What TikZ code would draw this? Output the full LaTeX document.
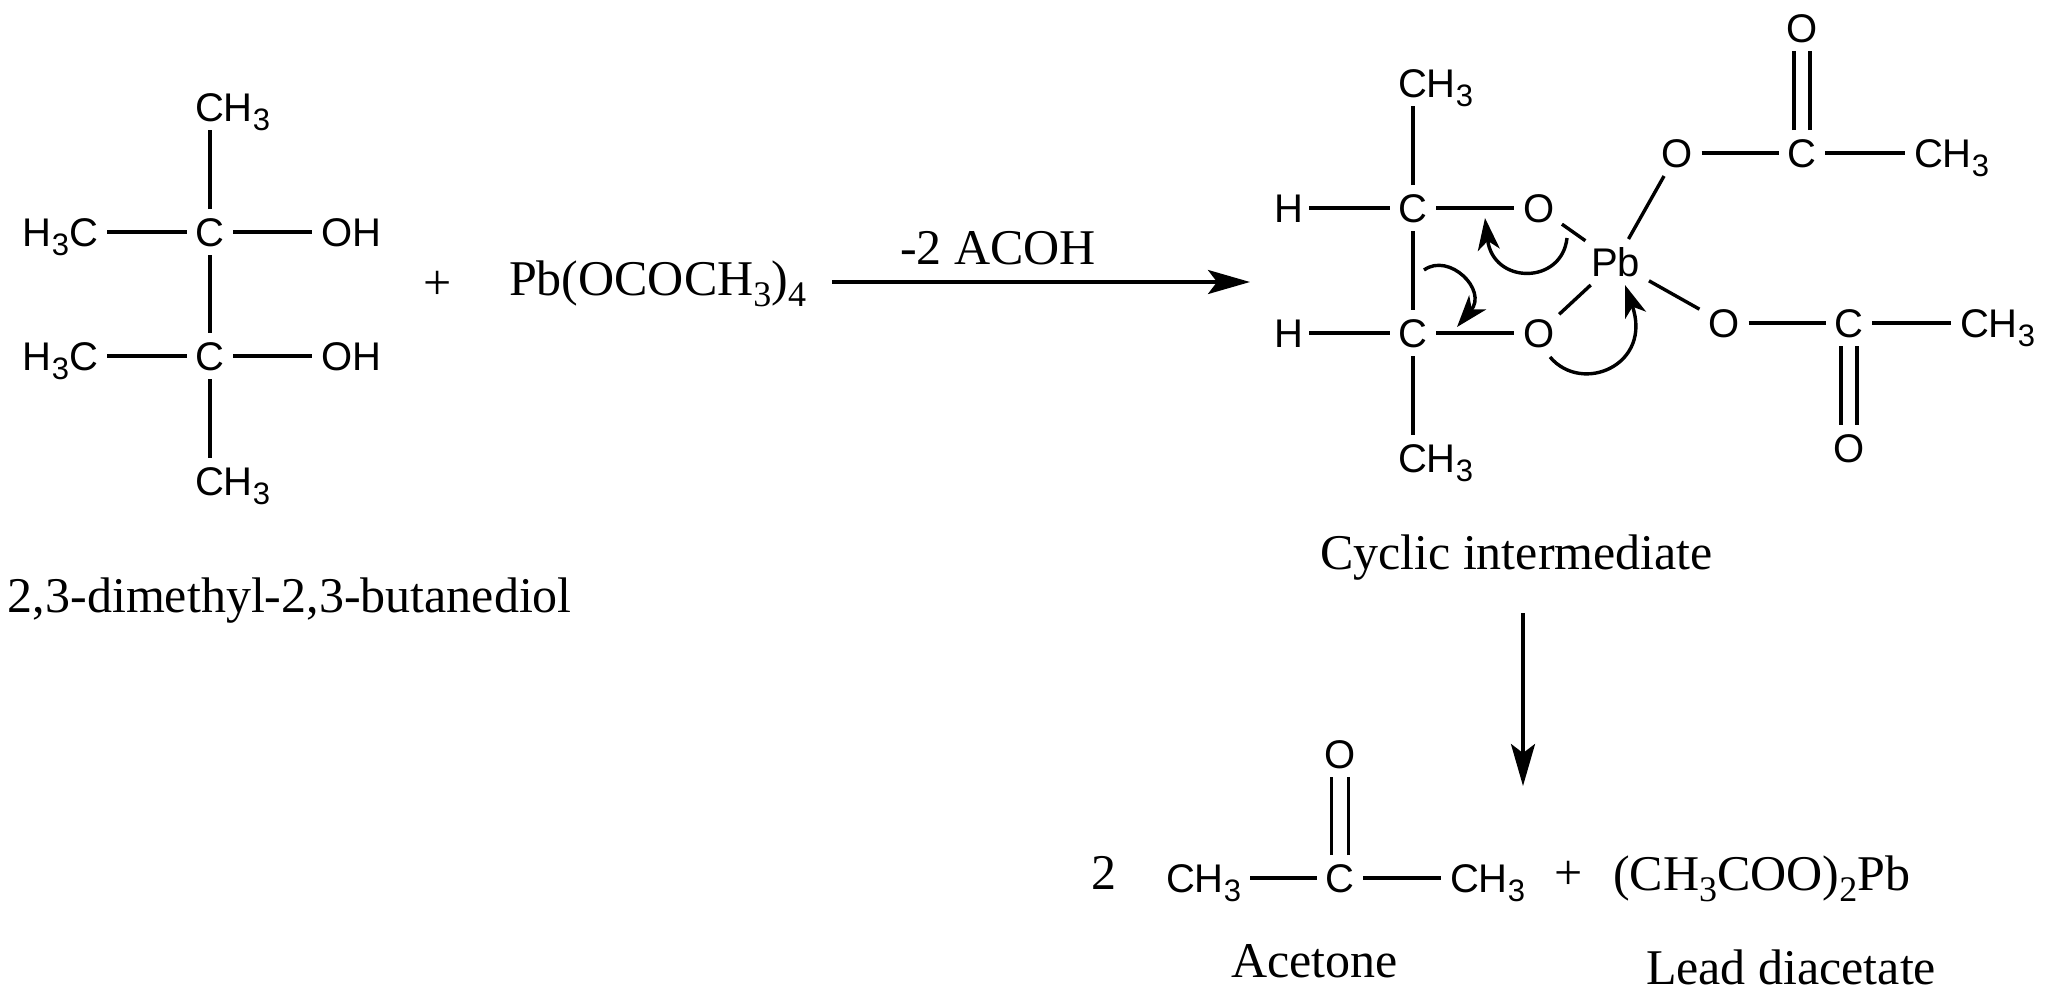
\documentclass[tikz,border=0pt]{standalone}
\usepackage{fontspec}
\setmainfont{Liberation Serif}
\newfontfamily\chemfont{Liberation Sans}
\usetikzlibrary{arrows.meta}
\newcommand{\atsub}[1]{\raisebox{-9pt}{\fontsize{31}{31}\selectfont #1}}
\newcommand{\txsub}[1]{\raisebox{-11pt}{\fontsize{36}{36}\selectfont #1}}
\tikzset{
  atom/.style={inner sep=0pt,outer sep=9pt,text height=28pt,text depth=0pt,font=\fontsize{40}{40}\chemfont},
  lbl/.style={inner sep=0pt,outer sep=0pt,anchor=base west,font=\fontsize{50}{50}\selectfont},
  bond/.style={line width=3.4pt,line cap=butt},
  mainarrow/.style={line width=3.4pt,-{Stealth[length=42pt,width=24pt,inset=9pt]}},
  curly/.style={line width=3.4pt,-{Stealth[length=32pt,width=22pt,inset=9pt]}},
}
\begin{document}
\begin{tikzpicture}[x=1pt,y=-1pt]
\useasboundingbox[fill=white] (0,0) rectangle (2045,1007);
% left molecule
\node[atom] (lc1) at (210,232) {C};
\node[atom] (lc2) at (210,356) {C};
\node[atom,anchor=west] (lm1) at (186,107) {CH\atsub{3}};
\node[atom,anchor=west] (lm2) at (186,481) {CH\atsub{3}};
\node[atom,anchor=east] (lm3) at (107,232) {H\atsub{3}C};
\node[atom,anchor=east] (lm4) at (107,356) {H\atsub{3}C};
\node[atom,anchor=west] (loh1) at (312,232) {OH};
\node[atom,anchor=west] (loh2) at (312,356) {OH};
\draw[bond] (lc1.north) -- (lc1.north |- lm1.south);
\draw[bond] (lc2.south) -- (lc2.south |- lm2.north);
\draw[bond] (lc1.south) -- (lc2.north);
\draw[bond] (lm3.east) -- (lc1.west);
\draw[bond] (lm4.east) -- (lc2.west);
\draw[bond] (lc1.east) -- (loh1.west);
\draw[bond] (lc2.east) -- (loh2.west);
\node[lbl] (plus1) at (423,299) {+};
\node[lbl] (reagent) at (509,295) {Pb(OCOCH\txsub{3})\txsub{4}};
\node[lbl] (name1) at (8,612) {2,3-dimethyl-2,3-butanediol};
% first arrow
\coordinate (a1s) at (832,282);
\coordinate (a1e) at (1250,282);
\draw[mainarrow] (a1s) -- (a1e);
\node[lbl] (cond) at (900,264) {-2 ACOH};
% cyclic intermediate
\node[atom] (c1) at (1413,208) {C};
\node[atom] (c2) at (1413,333) {C};
\node[atom] (h1) at (1289,208) {H};
\node[atom] (h2) at (1289,333) {H};
\node[atom] (o1) at (1539,208) {O};
\node[atom] (o2) at (1539,333) {O};
\node[atom] (pb) at (1615.5,262) {Pb};
\node[atom,anchor=west] (m1) at (1389,83) {CH\atsub{3}};
\node[atom,anchor=west] (m2) at (1389,458) {CH\atsub{3}};
\node[atom] (o3) at (1677,153) {O};
\node[atom] (c3) at (1802,153) {C};
\node[atom] (o4) at (1802,28) {O};
\node[atom,anchor=west] (m3) at (1905,153) {CH\atsub{3}};
\node[atom] (o5) at (1724,323) {O};
\node[atom] (c4) at (1849,323) {C};
\node[atom] (o6) at (1849,448) {O};
\node[atom,anchor=west] (m4) at (1951,323) {CH\atsub{3}};
\draw[bond] (c1.north) -- (c1.north |- m1.south);
\draw[bond] (c2.south) -- (c2.south |- m2.north);
\draw[bond] (c1.south) -- (c2.north);
\draw[bond,shorten <=-3pt] (h1.east) -- (c1.west);
\draw[bond,shorten <=-3pt] (h2.east) -- (c2.west);
\draw[bond] (c1.east) -- (o1.west);
\draw[bond] (c2.east) -- (o2.west);
\draw[bond,shorten <=-2pt,shorten >=-3pt] (o1) -- (pb);
\draw[bond,shorten <=-6pt] (o2) -- (pb);
\draw[bond] (pb) -- (o3);
\draw[bond] (pb) -- (o5);
\draw[bond] (o3.east) -- (c3.west);
\draw[bond] (c3.east) -- (m3.west);
\draw[bond] (o5.east) -- (c4.west);
\draw[bond] (c4.east) -- (m4.west);
\draw[bond] ([xshift=-8pt]c3.north) -- ([xshift=-8pt]o4.south);
\draw[bond] ([xshift=8pt]c3.north) -- ([xshift=8pt]o4.south);
\draw[bond] ([xshift=-8pt]c4.south) -- ([xshift=-8pt]o6.north);
\draw[bond] ([xshift=8pt]c4.south) -- ([xshift=8pt]o6.north);
% curved electron arrows
\coordinate (ca1s) at (1567,238);
\coordinate (ca1e) at (1485,218);
\draw[curly] (ca1s) .. controls (1562,285) and (1493,285) .. (ca1e);
\coordinate (ca2s) at (1424,270);
\coordinate (ca2e) at (1457,327);
\draw[curly] (ca2s) .. controls (1449,252) and (1488,290) .. (ca2e);
\coordinate (ca3s) at (1550,357);
\coordinate (ca3e) at (1625,285);
\draw[curly] (ca3s) .. controls (1582,395) and (1653,365) .. (ca3e);
\node[lbl] (name2) at (1320,569) {Cyclic intermediate};
% second arrow
\coordinate (a2s) at (1523,613);
\coordinate (a2e) at (1523,786);
\draw[mainarrow] (a2s) -- (a2e);
% products
\node[lbl] (two) at (1091,889) {2};
\node[atom] (pc) at (1340,878) {C};
\node[atom] (po) at (1340,754) {O};
\node[atom,anchor=east] (pm1) at (1250,878) {CH\atsub{3}};
\node[atom,anchor=west] (pm2) at (1441,878) {CH\atsub{3}};
\draw[bond] (pm1.east) -- (pc.west);
\draw[bond] (pc.east) -- (pm2.west);
\draw[bond] ([xshift=-8.5pt]pc.north) -- ([xshift=-8.5pt]po.south);
\draw[bond] ([xshift=8.5pt]pc.north) -- ([xshift=8.5pt]po.south);
\node[lbl] (plus2) at (1554,889) {+};
\node[lbl] (lead) at (1613,890) {(CH\txsub{3}COO)\txsub{2}Pb};
\node[lbl] (name3) at (1231,977) {Acetone};
\node[lbl] (name4) at (1646,984) {Lead diacetate};
\end{tikzpicture}
\end{document}
